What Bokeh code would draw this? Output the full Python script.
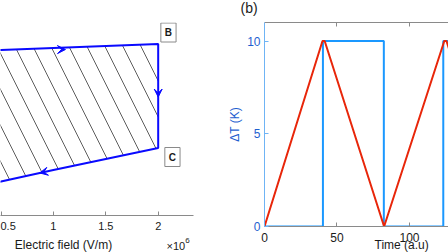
from bokeh.plotting import figure
from bokeh.layouts import row
from bokeh.models import Range1d, LinearAxis, Label, Arrow, VeeHead, FixedTicker, Title
from bokeh.embed import file_html
from bokeh.resources import INLINE

FONT = "Liberation Sans"

# ---------------- data: panel (a) cycle (E field, arbitrary y) ----------------
field_top = [0.0, 0.5e6, 1.0e6, 1.5e6, 2.0e6]
level_top = [0.327, 0.331, 0.335, 0.339, 0.343]
field_bottom = [2.0e6, 1.5e6, 1.0e6, 0.5e6, 0.0]
level_bottom = [0.135, 0.113, 0.091, 0.068, 0.046]
field_ticks = [0.0, 0.5e6, 1.0e6, 1.5e6, 2.0e6]
field_tick_labels = ["0", "0.5", "1", "1.5", "2"]

# ---------------- data: panel (b) temperature vs time ----------------
time_red = [0, 40, 41.5, 82.5, 124, 125.5, 166.5]
dT_red = [0, 10, 10, 0, 10, 10, 0]
time_blue = [0, 40.3, 40.3, 82.3, 82.3, 123.3, 123.3, 165]
dT_blue = [0, 0, 10, 10, 0, 0, 10, 10]
time_ticks = [0, 50, 100, 150]
dT_ticks = [0, 5, 10]

GRAY = "#8a8a8a"
INK = "#1a1a1a"

# ================= left panel =================
pl = figure(width=225, height=252, output_backend="svg", toolbar_location=None,
            x_range=Range1d(0.495e6, 2.337e6), y_range=Range1d(0, 0.386),
            y_axis_location=None, min_border_left=0, min_border_right=32,
            min_border_top=22, min_border_bottom=37, frame_align=False)
pl.title.visible = False
pl.outline_line_color = None
pl.grid.visible = False

cx = field_top + field_bottom
cy = level_top + level_bottom
pl.patch(cx, cy, fill_color=None, line_color=None, hatch_pattern="\\",
         hatch_scale=36, hatch_color="#333333", hatch_weight=0.8)
blue = "#0a0aff"
pl.line(cx + [cx[0]], cy + [cy[0]], line_color=blue, line_width=2)

def arrowhead(x0, y0, x1, y1):
    pl.add_layout(Arrow(end=VeeHead(size=8, fill_color=blue, line_color=blue, line_width=1),
                        x_start=x0, y_start=y0, x_end=x1, y_end=y1, line_alpha=0))

arrowhead(field_top[1], level_top[1], 1.115e6, level_top[1] + (level_top[2]-level_top[1]) * 0.23)
arrowhead(field_top[-1], level_top[-1], field_top[-1], 0.237)
arrowhead(field_bottom[1], level_bottom[1], 0.87e6, level_bottom[2] - (level_bottom[2]-level_bottom[3]) * 0.26)

ax = pl.xaxis[0]
ax.ticker = FixedTicker(ticks=field_ticks)
ax.major_label_overrides = {t: s for t, s in zip(field_ticks, field_tick_labels)}
ax.axis_line_color = GRAY
ax.major_tick_line_color = GRAY
ax.major_tick_in = 4
ax.major_tick_out = 0
ax.minor_tick_line_color = None
ax.major_label_text_font = FONT
ax.major_label_text_font_size = "11px"
ax.major_label_text_color = INK
ax.major_label_standoff = 6

for txt, xx, yy in [("B", 2.098e6, 0.366), ("C", 2.136e6, 0.117)]:
    pl.add_layout(Label(x=xx, y=yy, text=txt, text_font=FONT, text_font_size="10px",
                        text_font_style="bold", text_align="center", text_baseline="middle",
                        text_color=INK, border_line_color=GRAY,
                        background_fill_color="white", padding=4))

pl.add_layout(Label(x=1.096e6, y=-0.058, text="Electric field (V/m)", text_font=FONT,
                    text_font_size="12px", text_align="center", text_baseline="middle",
                    text_color=INK), "above")
pl.add_layout(Label(x=2.079e6, y=-0.061, text="×10", text_font=FONT,
                    text_font_size="11px", text_align="left", text_baseline="middle",
                    text_color=INK), "right")
pl.add_layout(Label(x=2.258e6, y=-0.050, text="6", text_font=FONT,
                    text_font_size="8px", text_align="left", text_baseline="middle",
                    text_color=INK), "right")

# ================= right panel =================
pr = figure(width=223, height=252, output_backend="svg", toolbar_location=None,
            x_range=Range1d(0, 126.9), y_range=Range1d(0, 11),
            min_border_left=30, min_border_right=0, min_border_top=22,
            min_border_bottom=26, frame_align=False)
pr.title.visible = False
pr.outline_line_color = None
pr.grid.visible = False

pr.line(time_blue, dT_blue, line_color="#1a98ff", line_width=2)
pr.line(time_red, dT_red, line_color="#e8260a", line_width=2)

bx = pr.xaxis[0]
bx.ticker = FixedTicker(ticks=time_ticks)
bx.axis_line_color = GRAY
bx.major_tick_line_color = GRAY
bx.major_tick_in = 4
bx.major_tick_out = 0
bx.minor_tick_line_color = None
bx.major_label_text_font = FONT
bx.major_label_text_font_size = "12px"
bx.major_label_text_color = INK
bx.major_label_standoff = 6

ly = pr.yaxis[0]
ly.ticker = FixedTicker(ticks=dT_ticks)
ly.axis_line_color = "#6fb4f5"
ly.major_tick_line_color = "#6fb4f5"
ly.major_tick_in = 4
ly.major_tick_out = 0
ly.minor_tick_line_color = None
ly.major_label_text_font = FONT
ly.major_label_text_font_size = "12px"
ly.major_label_text_color = "#1f5fd0"
ly.major_label_standoff = 4
ly.axis_label = "ΔT (K)"
ly.axis_label_text_font = FONT
ly.axis_label_text_font_size = "12px"
ly.axis_label_text_font_style = "normal"
ly.axis_label_text_color = "#1f5fd0"
ly.axis_label_standoff = 2

top = LinearAxis(ticker=FixedTicker(ticks=[50, 100]))
top.axis_line_color = GRAY
top.major_tick_line_color = GRAY
top.major_tick_in = 4
top.major_tick_out = 0
top.minor_tick_line_color = None
top.major_label_text_font_size = "1px"
top.major_label_text_color = None
top.major_label_standoff = 0
pr.add_layout(top, "above")

pr.add_layout(Label(x=-16.55, y=11.78, text="(b)", text_font=FONT,
                    text_font_size="14px", text_align="left", text_baseline="alphabetic",
                    text_color=INK), "above")
pr.add_layout(Title(text="Time (a.u)", align="left", offset=110, vertical_align="middle",
                    standoff=-15, text_font=FONT, text_font_size="12px",
                    text_font_style="normal", text_color=INK), "below")

layout = row(pl, pr, spacing=0)
open("out.html", "w").write(file_html(layout, INLINE))
